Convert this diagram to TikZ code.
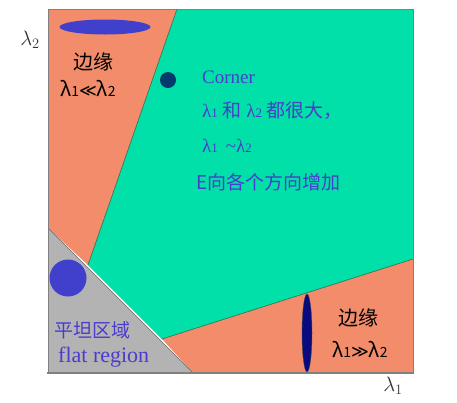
\documentclass[tikz,border=0pt]{standalone}
\usepackage{fontspec}
\setmainfont{Liberation Serif}
\newfontfamily\cjk{Noto Sans CJK SC}
\newfontfamily\dejavu{DejaVu Sans}
\usetikzlibrary{shapes.geometric}
\definecolor{orangec}{HTML}{F28C6A}
\definecolor{greenc}{HTML}{00E0A8}
\definecolor{greyc}{HTML}{B3B3B3}
\definecolor{bluec}{HTML}{4040CC}
\definecolor{navyc}{HTML}{0A0A80}
\definecolor{dotc}{HTML}{043A6C}
\definecolor{txtc}{HTML}{4A3CCC}
\definecolor{edgec}{HTML}{3A6A4A}
\newcommand{\sz}[1]{\fontsize{#1}{#1}\selectfont}
\tikzset{
  region/.style={draw=edgec, line width=0.6pt},
  bluetxt/.style={text=txtc, inner sep=0pt},
  blacktxt/.style={text=black, inner sep=0pt},
  axlabel/.style={text=black!80, inner sep=0pt},
}
\begin{document}
\begin{tikzpicture}[x=1pt,y=-1pt]
\useasboundingbox[fill=white] (0,0) rectangle (457,402);
% regions
\fill[orangec] (48,9) -- (177,9) -- (88,265) -- (48,228) -- cycle;
\fill[orangec] (162,339) -- (413,259) -- (413,373) -- (193,373) -- cycle;
\fill[greyc] (48,228) -- (193,373) -- (48,373) -- cycle;
\fill[greenc] (177,9) -- (413,9) -- (413,259) -- (162,339) -- (88,265) -- cycle;
\draw[region] (177,9) -- (88,265);
\draw[region] (162,339) -- (413,259);
\draw[draw=gray!80!black, line width=0.6pt] (48,228) -- (193,373);
% frame
\draw[gray, line width=1pt] (48,373) -- (48,9) -- (413,9) -- (413,373);
\draw[gray, line width=2pt] (47,373) -- (414,373);
% axis labels
\node[axlabel, font=\sz{21}] (l2) at (30,40) {$\lambda_2$};
\node[axlabel, font=\sz{21}] (l1) at (393,386) {$\lambda_1$};
% shapes
\node[ellipse, fill=bluec, minimum width=91pt, minimum height=15pt, inner sep=0pt] (e1) at (105,27) {};
\node[circle, fill=dotc, minimum size=16pt, inner sep=0pt] (dot) at (168,80) {};
\node[circle, fill=bluec, minimum size=37pt, inner sep=0pt] (flat) at (68,278) {};
\node[ellipse, fill=navyc, draw=black!70, line width=0.4pt, minimum width=10pt, minimum height=78pt, inner sep=0pt] (e2) at (307,333) {};
% left edge labels
\node[blacktxt, font=\cjk\sz{20}] (edgeA) at (93,62) {边缘};
\node[blacktxt, font=\cjk\sz{20}] (relA) at (88,88) {λ{\sz{14}1}{\dejavu\sz{17}≪}λ{\sz{14}2}};
% right edge labels
\node[blacktxt, font=\cjk\sz{20}] (edgeB) at (358,318) {边缘};
\node[blacktxt, font=\cjk\sz{20}] (relB) at (360,349) {λ{\sz{14}1}{\dejavu\sz{17}≫}λ{\sz{14}2}};
% corner text
\node[bluetxt, anchor=base west, font=\sz{19}] (c1) at (202,83) {Corner};
\node[bluetxt, anchor=base west, font=\sz{19}] (c2) at (202,117) {λ{\sz{13}1} {\cjk 和} λ{\sz{13}2} {\cjk 都很大，}};
\node[bluetxt, anchor=base west, font=\sz{19}] (c3) at (202,152) {λ{\sz{13}1} \,{\sz{19}\textasciitilde}λ{\sz{13}2}};
\node[bluetxt, anchor=base west, font=\cjk\sz{19}] (c4) at (196,189) {E向各个方向增加};
% flat text
\node[bluetxt, anchor=base west, font=\cjk\sz{19}] (f1) at (54,337) {平坦区域};
\node[bluetxt, anchor=base west, font=\sz{22}] (f2) at (58,362) {flat region};
\end{tikzpicture}
\end{document}
